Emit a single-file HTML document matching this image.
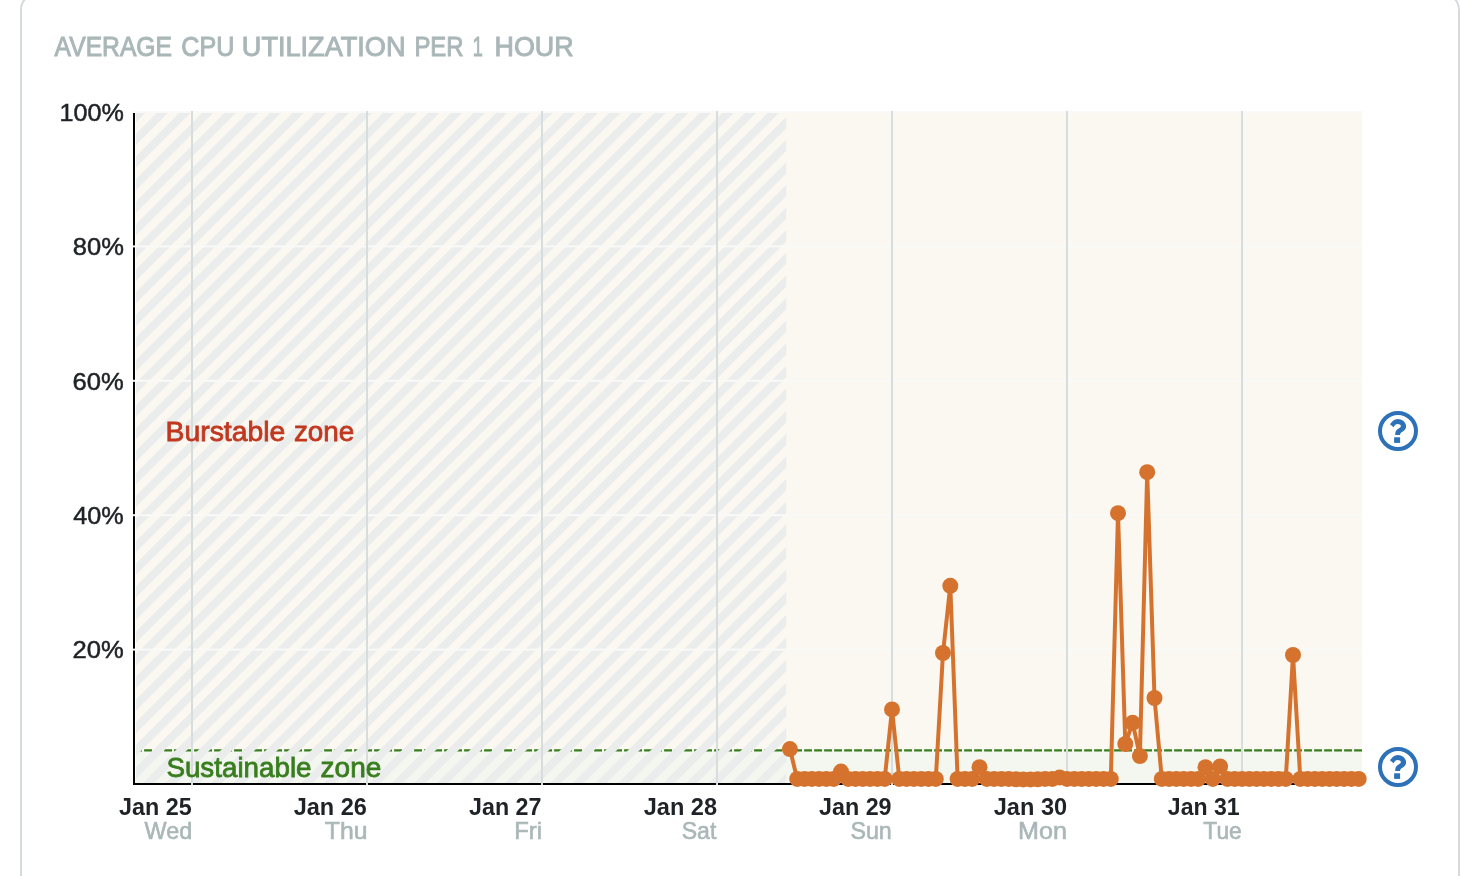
<!DOCTYPE html>
<html><head><meta charset="utf-8"><title>Average CPU utilization</title>
<style>html,body{margin:0;padding:0;background:#fff;overflow:hidden}svg{display:block;will-change:transform}text{font-family:"Liberation Sans",sans-serif}</style></head><body>
<svg width="1460" height="876" viewBox="0 0 1460 876">
<defs>
<pattern id="stripes" width="16" height="16" patternUnits="userSpaceOnUse" patternTransform="translate(134,113) rotate(45)"><rect x="0" y="0" width="8" height="16" fill="#ebedec"/></pattern>
</defs>
<rect width="1460" height="876" fill="#fff"/>
<rect x="21" y="-5.5" width="1438" height="920" rx="15" ry="15" fill="#fff" stroke="#d5dbdb" stroke-width="2"/>
<rect x="136" y="113" width="1226" height="670" fill="#fbf8f2"/>
<rect x="136" y="750.4" width="1226" height="32.6" fill="#f3f7f0"/>
<line x1="136" y1="750.4" x2="1362" y2="750.4" stroke="#387e1e" stroke-width="2.2" stroke-dasharray="7.9 2.1" stroke-dashoffset="1.9"/>
<rect x="136" y="113" width="650.3" height="670" fill="url(#stripes)"/>
<rect x="133" y="113" width="2" height="672" fill="#000"/>
<rect x="133" y="783" width="1229" height="2" fill="#000"/>
<rect x="133" y="111.0" width="1229" height="2" fill="#f9f9f8"/>
<rect x="133" y="245.4" width="1229" height="2" fill="#f9f9f8"/>
<rect x="133" y="379.8" width="1229" height="2" fill="#f9f9f8"/>
<rect x="133" y="514.2" width="1229" height="2" fill="#f9f9f8"/>
<rect x="133" y="648.6" width="1229" height="2" fill="#f9f9f8"/>
<rect x="191" y="111" width="2" height="674" fill="#d7dcdd"/>
<rect x="366" y="111" width="2" height="674" fill="#d7dcdd"/>
<rect x="541" y="111" width="2" height="674" fill="#d7dcdd"/>
<rect x="716" y="111" width="2" height="674" fill="#d7dcdd"/>
<rect x="891" y="111" width="2" height="674" fill="#d7dcdd"/>
<rect x="1066" y="111" width="2" height="674" fill="#d7dcdd"/>
<rect x="1241" y="111" width="2" height="674" fill="#d7dcdd"/>
<text x="54.62" y="55.5" font-size="27.4" fill="#aab7b8" stroke="#aab7b8" stroke-width="1.0" textLength="117.38" lengthAdjust="spacingAndGlyphs">AVERAGE</text>
<text x="181.32" y="55.5" font-size="27.4" fill="#aab7b8" stroke="#aab7b8" stroke-width="1.0" textLength="53.04" lengthAdjust="spacingAndGlyphs">CPU</text>
<text x="241.82" y="55.5" font-size="27.4" fill="#aab7b8" stroke="#aab7b8" stroke-width="1.0" textLength="163.75" lengthAdjust="spacingAndGlyphs">UTILIZATION</text>
<text x="414.43" y="55.5" font-size="27.4" fill="#aab7b8" stroke="#aab7b8" stroke-width="1.0" textLength="49.15" lengthAdjust="spacingAndGlyphs">PER</text>
<text x="472.78" y="55.5" font-size="27.4" fill="#aab7b8" stroke="#aab7b8" stroke-width="1.0" textLength="10.02" lengthAdjust="spacingAndGlyphs">1</text>
<text x="494.54" y="55.5" font-size="27.4" fill="#aab7b8" stroke="#aab7b8" stroke-width="1.0" textLength="79.12" lengthAdjust="spacingAndGlyphs">HOUR</text>
<text x="59.43" y="120.7" font-size="24.5" fill="#1f2226" stroke="#1f2226" stroke-width="0.5" textLength="64.39" lengthAdjust="spacingAndGlyphs">100%</text>
<text x="72.73" y="255.1" font-size="24.5" fill="#1f2226" stroke="#1f2226" stroke-width="0.5" textLength="51.13" lengthAdjust="spacingAndGlyphs">80%</text>
<text x="72.60" y="389.5" font-size="24.5" fill="#1f2226" stroke="#1f2226" stroke-width="0.5" textLength="51.26" lengthAdjust="spacingAndGlyphs">60%</text>
<text x="73.28" y="523.9" font-size="24.5" fill="#1f2226" stroke="#1f2226" stroke-width="0.5" textLength="50.42" lengthAdjust="spacingAndGlyphs">40%</text>
<text x="72.60" y="658.3" font-size="24.5" fill="#1f2226" stroke="#1f2226" stroke-width="0.5" textLength="51.26" lengthAdjust="spacingAndGlyphs">20%</text>
<text x="165.56" y="441.0" font-size="28" fill="#c1381f" stroke="#c1381f" stroke-width="0.8" textLength="119.84" lengthAdjust="spacingAndGlyphs">Burstable</text>
<text x="293.88" y="441.0" font-size="28" fill="#c1381f" stroke="#c1381f" stroke-width="0.8" textLength="60.49" lengthAdjust="spacingAndGlyphs">zone</text>
<text x="166.42" y="777.0" font-size="28" fill="#387e1e" stroke="#387e1e" stroke-width="0.8" textLength="145.14" lengthAdjust="spacingAndGlyphs">Sustainable</text>
<text x="320.57" y="777.0" font-size="28" fill="#387e1e" stroke="#387e1e" stroke-width="0.8" textLength="60.76" lengthAdjust="spacingAndGlyphs">zone</text>
<polyline fill="none" stroke="#d5732e" stroke-width="4" stroke-linejoin="round" points="789.9,749.1 797.2,778.9 804.5,778.9 811.8,778.9 819.1,778.9 826.4,778.9 833.7,778.9 841.0,771.6 848.2,778.9 855.5,778.9 862.8,778.9 870.1,778.9 877.4,778.9 884.7,778.9 892.0,709.4 899.3,778.9 906.6,778.9 913.9,778.9 921.2,778.9 928.5,778.9 935.8,778.9 943.0,653.0 950.3,585.8 957.6,778.9 964.9,778.9 972.2,778.9 979.5,767.2 986.8,778.9 994.1,778.9 1001.4,778.9 1008.7,778.9 1016.0,779.3 1023.2,779.4 1030.5,779.4 1037.8,779.3 1045.1,778.9 1052.4,778.9 1059.7,777.6 1067.0,778.9 1074.3,778.9 1081.6,778.9 1088.9,778.9 1096.2,778.9 1103.5,778.9 1110.8,778.9 1118.0,513.2 1125.3,744.0 1132.6,722.8 1139.9,756.1 1147.2,472.2 1154.5,698.0 1161.8,778.9 1169.1,778.9 1176.4,778.9 1183.7,778.9 1191.0,778.9 1198.2,778.9 1205.5,767.2 1212.8,778.9 1220.1,766.5 1227.4,778.9 1234.7,778.9 1242.0,778.9 1249.3,778.9 1256.6,778.9 1263.9,778.9 1271.2,778.9 1278.5,778.9 1285.8,778.9 1293.0,655.0 1300.3,778.9 1307.6,778.9 1314.9,778.9 1322.2,778.9 1329.5,778.9 1336.8,778.9 1344.1,778.9 1351.4,778.9 1358.7,778.9"/>
<g fill="#d5732e">
<circle cx="789.9" cy="749.1" r="8"/>
<circle cx="797.2" cy="778.9" r="8"/>
<circle cx="804.5" cy="778.9" r="8"/>
<circle cx="811.8" cy="778.9" r="8"/>
<circle cx="819.1" cy="778.9" r="8"/>
<circle cx="826.4" cy="778.9" r="8"/>
<circle cx="833.7" cy="778.9" r="8"/>
<circle cx="841.0" cy="771.6" r="8"/>
<circle cx="848.2" cy="778.9" r="8"/>
<circle cx="855.5" cy="778.9" r="8"/>
<circle cx="862.8" cy="778.9" r="8"/>
<circle cx="870.1" cy="778.9" r="8"/>
<circle cx="877.4" cy="778.9" r="8"/>
<circle cx="884.7" cy="778.9" r="8"/>
<circle cx="892.0" cy="709.4" r="8"/>
<circle cx="899.3" cy="778.9" r="8"/>
<circle cx="906.6" cy="778.9" r="8"/>
<circle cx="913.9" cy="778.9" r="8"/>
<circle cx="921.2" cy="778.9" r="8"/>
<circle cx="928.5" cy="778.9" r="8"/>
<circle cx="935.8" cy="778.9" r="8"/>
<circle cx="943.0" cy="653.0" r="8"/>
<circle cx="950.3" cy="585.8" r="8"/>
<circle cx="957.6" cy="778.9" r="8"/>
<circle cx="964.9" cy="778.9" r="8"/>
<circle cx="972.2" cy="778.9" r="8"/>
<circle cx="979.5" cy="767.2" r="8"/>
<circle cx="986.8" cy="778.9" r="8"/>
<circle cx="994.1" cy="778.9" r="8"/>
<circle cx="1001.4" cy="778.9" r="8"/>
<circle cx="1008.7" cy="778.9" r="8"/>
<circle cx="1016.0" cy="779.3" r="8"/>
<circle cx="1023.2" cy="779.4" r="8"/>
<circle cx="1030.5" cy="779.4" r="8"/>
<circle cx="1037.8" cy="779.3" r="8"/>
<circle cx="1045.1" cy="778.9" r="8"/>
<circle cx="1052.4" cy="778.9" r="8"/>
<circle cx="1059.7" cy="777.6" r="8"/>
<circle cx="1067.0" cy="778.9" r="8"/>
<circle cx="1074.3" cy="778.9" r="8"/>
<circle cx="1081.6" cy="778.9" r="8"/>
<circle cx="1088.9" cy="778.9" r="8"/>
<circle cx="1096.2" cy="778.9" r="8"/>
<circle cx="1103.5" cy="778.9" r="8"/>
<circle cx="1110.8" cy="778.9" r="8"/>
<circle cx="1118.0" cy="513.2" r="8"/>
<circle cx="1125.3" cy="744.0" r="8"/>
<circle cx="1132.6" cy="722.8" r="8"/>
<circle cx="1139.9" cy="756.1" r="8"/>
<circle cx="1147.2" cy="472.2" r="8"/>
<circle cx="1154.5" cy="698.0" r="8"/>
<circle cx="1161.8" cy="778.9" r="8"/>
<circle cx="1169.1" cy="778.9" r="8"/>
<circle cx="1176.4" cy="778.9" r="8"/>
<circle cx="1183.7" cy="778.9" r="8"/>
<circle cx="1191.0" cy="778.9" r="8"/>
<circle cx="1198.2" cy="778.9" r="8"/>
<circle cx="1205.5" cy="767.2" r="8"/>
<circle cx="1212.8" cy="778.9" r="8"/>
<circle cx="1220.1" cy="766.5" r="8"/>
<circle cx="1227.4" cy="778.9" r="8"/>
<circle cx="1234.7" cy="778.9" r="8"/>
<circle cx="1242.0" cy="778.9" r="8"/>
<circle cx="1249.3" cy="778.9" r="8"/>
<circle cx="1256.6" cy="778.9" r="8"/>
<circle cx="1263.9" cy="778.9" r="8"/>
<circle cx="1271.2" cy="778.9" r="8"/>
<circle cx="1278.5" cy="778.9" r="8"/>
<circle cx="1285.8" cy="778.9" r="8"/>
<circle cx="1293.0" cy="655.0" r="8"/>
<circle cx="1300.3" cy="778.9" r="8"/>
<circle cx="1307.6" cy="778.9" r="8"/>
<circle cx="1314.9" cy="778.9" r="8"/>
<circle cx="1322.2" cy="778.9" r="8"/>
<circle cx="1329.5" cy="778.9" r="8"/>
<circle cx="1336.8" cy="778.9" r="8"/>
<circle cx="1344.1" cy="778.9" r="8"/>
<circle cx="1351.4" cy="778.9" r="8"/>
<circle cx="1358.7" cy="778.9" r="8"/>
</g>
<g transform="translate(1398,431)"><circle r="18" fill="#fff" stroke="#2d72b8" stroke-width="4"/><path d="M-8,-6.7 C-6,-10 -3.5,-12.1 -0.4,-12.1 C4,-12.1 8.1,-8.9 8.1,-4.7 C8.1,-0.5 4.5,0.5 3,1.8 C2.3,2.4 2.1,2.9 2.1,3.9 L-2.8,3.9 C-2.8,1 -2.2,-0.4 -0.5,-1.8 C1,-3 2.9,-3.5 2.9,-5 C2.9,-6.3 1.4,-7.1 -0.4,-7.1 C-2.2,-7.1 -3.4,-5.9 -4.4,-3.7 Z" fill="#2d72b8"/><rect x="-3.9" y="6.3" width="6" height="5.6" fill="#2d72b8"/></g>
<g transform="translate(1398,767)"><circle r="18" fill="#fff" stroke="#2d72b8" stroke-width="4"/><path d="M-8,-6.7 C-6,-10 -3.5,-12.1 -0.4,-12.1 C4,-12.1 8.1,-8.9 8.1,-4.7 C8.1,-0.5 4.5,0.5 3,1.8 C2.3,2.4 2.1,2.9 2.1,3.9 L-2.8,3.9 C-2.8,1 -2.2,-0.4 -0.5,-1.8 C1,-3 2.9,-3.5 2.9,-5 C2.9,-6.3 1.4,-7.1 -0.4,-7.1 C-2.2,-7.1 -3.4,-5.9 -4.4,-3.7 Z" fill="#2d72b8"/><rect x="-3.9" y="6.3" width="6" height="5.6" fill="#2d72b8"/></g>
<text x="119.05" y="814.8" font-size="24" font-weight="bold" fill="#1f2226" textLength="72.68" lengthAdjust="spacingAndGlyphs">Jan 25</text>
<text x="293.70" y="814.8" font-size="24" font-weight="bold" fill="#1f2226" textLength="73.27" lengthAdjust="spacingAndGlyphs">Jan 26</text>
<text x="469.05" y="814.8" font-size="24" font-weight="bold" fill="#1f2226" textLength="72.36" lengthAdjust="spacingAndGlyphs">Jan 27</text>
<text x="643.71" y="814.8" font-size="24" font-weight="bold" fill="#1f2226" textLength="73.31" lengthAdjust="spacingAndGlyphs">Jan 28</text>
<text x="819.05" y="814.8" font-size="24" font-weight="bold" fill="#1f2226" textLength="72.51" lengthAdjust="spacingAndGlyphs">Jan 29</text>
<text x="993.70" y="814.8" font-size="24" font-weight="bold" fill="#1f2226" textLength="73.44" lengthAdjust="spacingAndGlyphs">Jan 30</text>
<text x="1167.82" y="814.8" font-size="24" font-weight="bold" fill="#1f2226" textLength="71.89" lengthAdjust="spacingAndGlyphs">Jan 31</text>
<text x="144.54" y="838.6" font-size="24.5" fill="#aab7b8" stroke="#aab7b8" stroke-width="0.6" textLength="47.67" lengthAdjust="spacingAndGlyphs">Wed</text>
<text x="324.88" y="838.6" font-size="24.5" fill="#aab7b8" stroke="#aab7b8" stroke-width="0.6" textLength="42.72" lengthAdjust="spacingAndGlyphs">Thu</text>
<text x="514.19" y="838.6" font-size="24.5" fill="#aab7b8" stroke="#aab7b8" stroke-width="0.6" textLength="27.88" lengthAdjust="spacingAndGlyphs">Fri</text>
<text x="681.69" y="838.6" font-size="24.5" fill="#aab7b8" stroke="#aab7b8" stroke-width="0.6" textLength="34.64" lengthAdjust="spacingAndGlyphs">Sat</text>
<text x="850.42" y="838.6" font-size="24.5" fill="#aab7b8" stroke="#aab7b8" stroke-width="0.6" textLength="41.39" lengthAdjust="spacingAndGlyphs">Sun</text>
<text x="1018.08" y="838.6" font-size="24.5" fill="#aab7b8" stroke="#aab7b8" stroke-width="0.6" textLength="48.86" lengthAdjust="spacingAndGlyphs">Mon</text>
<text x="1203.35" y="838.6" font-size="24.5" fill="#aab7b8" stroke="#aab7b8" stroke-width="0.6" textLength="38.47" lengthAdjust="spacingAndGlyphs">Tue</text>
</svg></body></html>
